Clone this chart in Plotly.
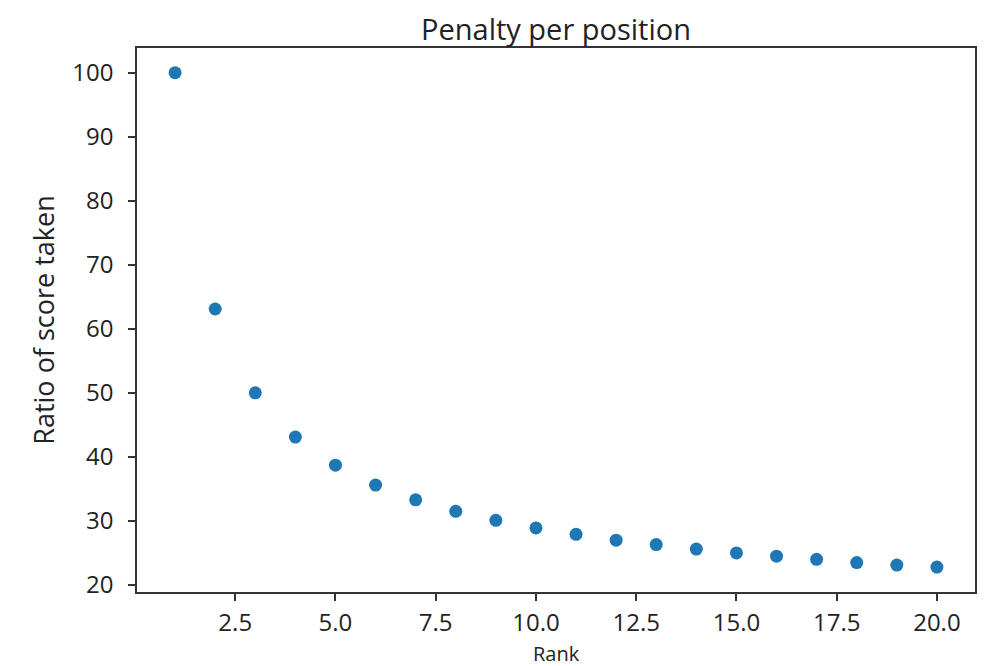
import plotly.graph_objects as go

rank = [1, 2, 3, 4, 5, 6, 7, 8, 9, 10, 11, 12, 13, 14, 15, 16, 17, 18, 19, 20]
ratio = [100.0, 63.1, 50.0, 43.1, 38.7, 35.6, 33.3, 31.5, 30.1, 28.9,
         27.9, 27.0, 26.3, 25.6, 25.0, 24.5, 24.0, 23.5, 23.1, 22.8]
x_ticks = [2.5, 5.0, 7.5, 10.0, 12.5, 15.0, 17.5, 20.0]
y_ticks = [20, 30, 40, 50, 60, 70, 80, 90, 100]

FONT = "Open Sans"
TXT = "#222222"
fig = go.Figure()
fig.add_trace(go.Scatter(
    x=rank, y=ratio, mode="markers",
    marker=dict(color="#1f77b4", size=13, line=dict(width=0)),
    showlegend=False,
))

axis_common = dict(
    showgrid=False, zeroline=False, showline=True, mirror=True,
    linecolor="#333333", linewidth=1.5,
    ticks="outside", ticklen=7, tickwidth=1.5, tickcolor="#333333",
    tickfont=dict(family=FONT, size=24, color=TXT),
    automargin=False,
)
fig.update_layout(
    width=994, height=658,
    margin=dict(l=129, r=27, t=40, b=74),
    paper_bgcolor="white", plot_bgcolor="white",
    xaxis=dict(range=[0.05, 20.95], tickvals=x_ticks, tickformat=".1f",
               ticklabelstandoff=1, **axis_common),
    yaxis=dict(range=[18.9, 103.86], tickvals=y_ticks,
               ticklabelstandoff=10,
               title=dict(text="Ratio of score taken", standoff=10,
                          font=dict(family=FONT, size=27, color=TXT)),
               **axis_common),
)
fig.add_annotation(text="Penalty per position", xref="paper", yref="paper",
                   x=0.5, y=1, xanchor="center", yanchor="top", yshift=40,
                   showarrow=False, borderpad=0,
                   font=dict(family=FONT, size=29, color=TXT))
fig.add_annotation(text="Rank", xref="paper", yref="paper",
                   x=0.5, y=0, xanchor="center", yanchor="top", yshift=-47,
                   showarrow=False, borderpad=0,
                   font=dict(family=FONT, size=20, color=TXT))
fig.write_html("out.html")
